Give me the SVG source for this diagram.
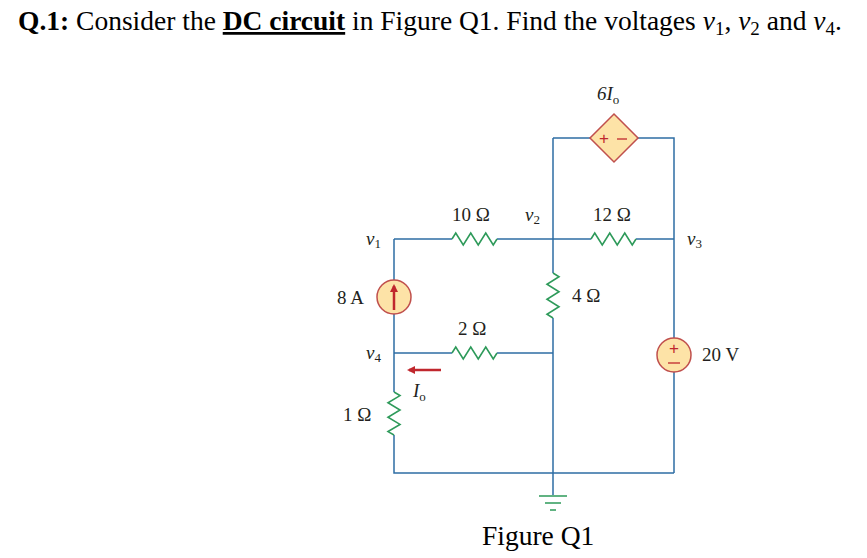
<svg xmlns="http://www.w3.org/2000/svg" width="867" height="558" viewBox="0 0 867 558">
<style>
.w{stroke:#2e6da4;stroke-width:1.5;fill:none}
.r{stroke:#2e9a5a;stroke-width:1.6;fill:none}
.src{fill:#fde3a7;stroke:#c0504d;stroke-width:1.5}
.t{font-family:"Liberation Serif",serif;font-size:19px;fill:#231f20}
.v{font-family:"Liberation Serif",serif;font-size:19px;font-style:italic;fill:#231f20}
.sub{font-size:13px;font-style:normal}
.h{font-family:"Liberation Serif",serif;font-size:27.5px;fill:#000}
</style>
<defs><marker id="ah" markerWidth="8" markerHeight="8" refX="6" refY="4" orient="auto" markerUnits="userSpaceOnUse"><path d="M0,0 L8,4 L0,8 z" fill="#c0272d"/></marker></defs>
<text class="h" x="18" y="30"><tspan font-weight="bold">Q.1:</tspan> Consider the <tspan font-weight="bold" text-decoration="underline">DC circuit</tspan> in Figure Q1. Find the voltages <tspan font-style="italic">v</tspan><tspan font-size="19" dy="5">1</tspan><tspan dy="-5">, </tspan><tspan font-style="italic">v</tspan><tspan font-size="19" dy="5">2</tspan><tspan dy="-5"> and </tspan><tspan font-style="italic">v</tspan><tspan font-size="19" dy="5">4</tspan><tspan dy="-5">.</tspan></text>
<g id="wires">
<path class="w" d="M394,239 H452 M497,239 H591 M636,239 H674 M394,239 V280 M394,314 V353 H452 M497,353 H553 M394,353 V392 M394,435 V473 H674 M553,138 V273 M553,318 V495 M553,138 H590 M638,138 H674 V338 M674,372 V473"/>
</g>
<g id="r10"><path class="r" d="M452,239 l3.75,-6 l7.5,12 l7.5,-12 l7.5,12 l7.5,-12 l7.5,12 l3.75,-6"/><text class="t" x="452" y="221">10 Ω</text></g>
<g id="r12"><path class="r" d="M591,239 l3.75,-6 l7.5,12 l7.5,-12 l7.5,12 l7.5,-12 l7.5,12 l3.75,-6"/><text class="t" x="593" y="221">12 Ω</text></g>
<g id="r2"><path class="r" d="M452,353 l3.75,-6 l7.5,12 l7.5,-12 l7.5,12 l7.5,-12 l7.5,12 l3.75,-6"/><text class="t" x="458" y="335">2 Ω</text></g>
<g id="r4"><path class="r" d="M553,273 l6,3.75 l-12,7.5 l12,7.5 l-12,7.5 l12,7.5 l-12,7.5 l6,3.75"/><text class="t" x="572" y="302">4 Ω</text></g>
<g id="r1"><path class="r" d="M394,392 l6,3.6 l-12,7.2 l12,7.2 l-12,7.2 l12,7.2 l-12,7.2 l6,3.4"/><text class="t" x="343" y="421">1 Ω</text></g>
<g id="src8A"><circle class="src" cx="394" cy="297" r="17"/><line x1="394" y1="310" x2="394" y2="286" stroke="#c0272d" stroke-width="2.5" marker-end="url(#ah)"/><text class="t" x="337" y="304">8 A</text></g>
<g id="src20V"><circle class="src" cx="674" cy="355" r="17"/><text x="674" y="354" text-anchor="middle" font-family="Liberation Sans,sans-serif" font-size="17" fill="#c0272d">+</text><line x1="668" y1="363" x2="680" y2="363" stroke="#c0272d" stroke-width="1.3"/><text class="t" x="702" y="361">20 V</text></g>
<g id="dep"><path class="src" d="M614,114 L638,138 L614,162 L590,138 Z"/><text x="599" y="144" font-family="Liberation Sans,sans-serif" font-size="17" fill="#c0272d">+</text><line x1="617" y1="139" x2="627" y2="139" stroke="#c0272d" stroke-width="1.3"/><text class="v" x="597" y="100">6<tspan>I</tspan><tspan class="sub" dy="4">o</tspan></text></g>
<g id="gnd"><path d="M539,496 H567 M545,503 H561 M550,510 H556" stroke="#2e9a5a" stroke-width="1.5"/></g>
<g id="io"><line x1="441" y1="370" x2="409" y2="370" stroke="#c0272d" stroke-width="2.5" marker-end="url(#ah)"/><text class="v" x="413" y="397">I<tspan class="sub" dy="4">o</tspan></text></g>
<g id="labels">
<text class="v" x="366" y="245">v<tspan class="sub" dy="3">1</tspan></text>
<text class="v" x="525" y="221">v<tspan class="sub" dy="3">2</tspan></text>
<text class="v" x="687" y="245">v<tspan class="sub" dy="3">3</tspan></text>
<text class="v" x="366" y="359">v<tspan class="sub" dy="3">4</tspan></text>
<text class="h" x="482" y="545" font-size="24">Figure Q1</text>
</g>
</svg>
